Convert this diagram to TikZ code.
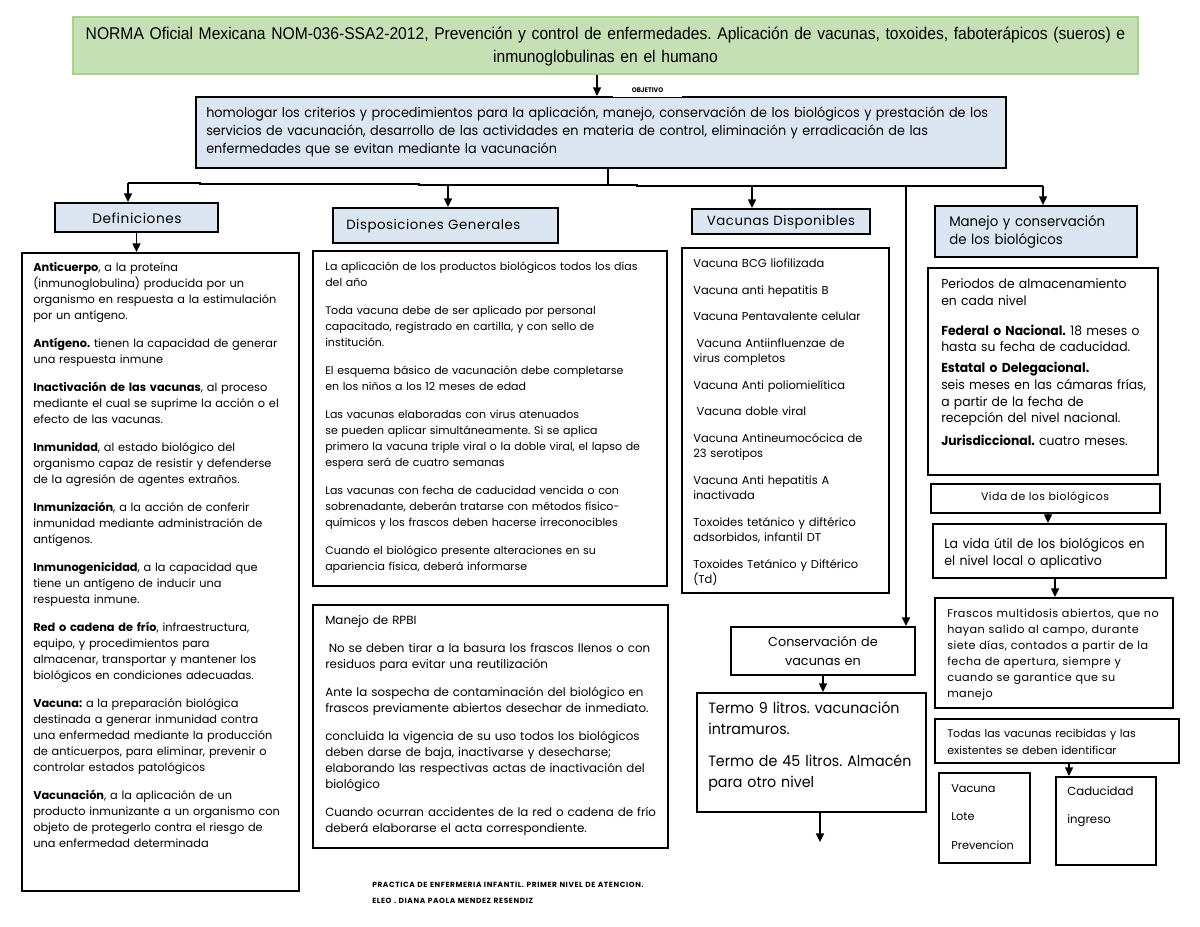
\documentclass[tikz,border=0pt]{standalone}
\usepackage{fontspec}
\setmainfont{Poppins}
\newfontfamily\nar{Poppins}[FakeStretch=0.95]
\newfontfamily\wsp{Poppins}[LetterSpace=4]
\newfontfamily\wspb{Poppins}[LetterSpace=8]
\newfontfamily\ttl{Liberation Sans}[FakeStretch=0.92]
\usetikzlibrary{arrows.meta,fit,calc}
\definecolor{tgreen}{HTML}{C5E0B4}
\definecolor{tgreenb}{HTML}{A9D08E}
\definecolor{lblue}{HTML}{DCE6F2}
\newcommand\myfs[2]{\fontsize{#1}{#2}\selectfont}
\frenchspacing
\begin{document}
\begin{tikzpicture}[x=0.75pt,y=-0.75pt,
  box/.style={draw=black,line width=1.6pt,inner sep=0pt},
  tbox/.style={draw=black,line width=0.8pt,inner sep=0pt},
  hbox/.style={box,fill=lblue},
  txt/.style={anchor=base west,inner sep=0pt,align=left,text width=#1*0.75pt},
  arr/.style={line width=1.2pt,-{Triangle[width=6pt,length=6.5pt]}},
  conn/.style={line width=1.1pt},
]
\useasboundingbox[fill=white] (0,0) rectangle (1200,927);

% title
\node[draw=tgreenb,fill=tgreen,line width=1.5pt,inner sep=0pt,fit={(73,17) (1138,74)}] (title) {};
\node[anchor=base,inner sep=0pt,align=center,text width=1064*0.75pt,font=\ttl\myfs{12.75}{17.25}] (title-t) at (605.5,40)
 {NORMA Oficial Mexicana NOM-036-SSA2-2012, Prevención y control de enfermedades. Aplicación de vacunas, toxoides, faboterápicos (sueros) e\\ inmunoglobulinas en el humano};

% objetivo
\node[hbox,fit={(196,97) (1006,168)}] (obj) {};
\node[fill=white,inner sep=0pt,minimum width=51.75pt,minimum height=11.25pt,anchor=south,font=\nar\bfseries\myfs{5}{6}] (objlbl) at ($(obj.north)+(46.5,1.5)$) {OBJETIVO};
\node[txt=800,font=\nar\myfs{10.1}{13.5}] (obj-t) at (206,118)
 {homologar los criterios y procedimientos para la aplicación, manejo, conservación de los biológicos y prestación de los\\
 servicios de vacunación, desarrollo de las actividades en materia de control, eliminación y erradicación de las\\
 enfermedades que se evitan mediante la vacunación};
\draw[arr] ($(title.south)+(-8.5,0)$) -- ($(obj.north)+(-4,0)$);

% headers
\node[hbox,fit={(55,203) (218,232)}] (defh) {};
\node[font=\wsp\myfs{10.3}{12}] (defh-t) at (137,218) {Definiciones};
\node[hbox,fit={(333,208) (558,243)}] (disph) {};
\node[txt=220,font=\wsp\myfs{10}{12}] (disph-t) at (346,229.6) {Disposiciones Generales};
\node[hbox,fit={(692,209) (870,234)}] (vach) {};
\node[font=\wsp\myfs{10}{12}] (vach-t) at (781,222) {Vacunas Disponibles};
\node[hbox,fit={(935,206) (1137,257)}] (manh) {};
\node[txt=195,font=\nar\myfs{10.5}{13.5}] (manh-t) at (949,227) {Manejo y conservación\\ de los biológicos};

% bus
\draw[conn] ($(obj.south)+(7,0)$) -- ++(0,17);
\coordinate (hA) at (128,183);
\coordinate (hD) at (448,184);
\coordinate (hC) at (752,186);
\coordinate (hV) at (906,186);
\coordinate (hB) at (1043,186);
\draw[conn] (hA) -- (200,183) -- (200,184) -- (419,184) -- (419,185) -- (637,185) -- (637,186) -- (hB);
\draw[arr] (hA) -- (hA |- defh.north);
\draw[arr] (hD) -- (hD |- disph.north);
\draw[arr] (hC) -- (hC |- vach.north);
\draw[arr] (hB) -- (hB |- manh.north);

% Definiciones
\node[box,fit={(22,253) (299,891)}] (defs) {};
\draw[arr] (defh.south) -- (defh.south |- defs.north);
\node[txt=300,font=\myfs{8.5}{12}] (defs-t) at (33,272)
 {\textbf{Anticuerpo}, a la proteína\\
(inmunoglobulina) producida por un\\
organismo en respuesta a la estimulación\\
por un antígeno.\\[9pt]
\textbf{Antígeno.} tienen la capacidad de generar\\
una respuesta inmune\\[9pt]
\textbf{Inactivación de las vacunas}, al proceso\\
mediante el cual se suprime la acción o el\\
efecto de las vacunas.\\[9pt]
\textbf{Inmunidad}, al estado biológico del\\
organismo capaz de resistir y defenderse\\
de la agresión de agentes extraños.\\[9pt]
\textbf{Inmunización}, a la acción de conferir\\
inmunidad mediante administración de\\
antígenos.\\[9pt]
\textbf{Inmunogenicidad}, a la capacidad que\\
tiene un antígeno de inducir una\\
respuesta inmune.\\[9pt]
\textbf{Red o cadena de frío}, infraestructura,\\
equipo, y procedimientos para\\
almacenar, transportar y mantener los\\
biológicos en condiciones adecuadas.\\[9pt]
\textbf{Vacuna:} a la preparación biológica\\
destinada a generar inmunidad contra\\
una enfermedad mediante la producción\\
de anticuerpos, para eliminar, prevenir o\\
controlar estados patológicos\\[9pt]
\textbf{Vacunación}, a la aplicación de un\\
producto inmunizante a un organismo con\\
objeto de protegerlo contra el riesgo de\\
una enfermedad determinada};

% Disposiciones
\node[box,fit={(313,251) (667,586)}] (disp) {};
\node[txt=400,font=\myfs{8.25}{12}] (disp-t) at (325,271)
 {La aplicación de los productos biológicos todos los días\\
del año\\[9pt]
Toda vacuna debe de ser aplicado por personal\\
capacitado, registrado en cartilla, y con sello de\\
institución.\\[9pt]
El esquema básico de vacunación debe completarse\\
en los niños a los 12 meses de edad\\[9pt]
Las vacunas elaboradas con virus atenuados\\
se pueden aplicar simultáneamente. Si se aplica\\
primero la vacuna triple viral o la doble viral, el lapso de\\
espera será de cuatro semanas\\[9pt]
Las vacunas con fecha de caducidad vencida o con\\
sobrenadante, deberán tratarse con métodos físico-\\
químicos y los frascos deben hacerse irreconocibles\\[9pt]
Cuando el biológico presente alteraciones en su\\
apariencia física, deberá informarse};

% RPBI
\node[box,fit={(313,605) (668,848)}] (rpbi) {};
\node[txt=400,font=\myfs{8.9}{12}] (rpbi-t) at (325,624)
 {Manejo de RPBI\\[9pt]
\hspace*{0.3em}No se deben tirar a la basura los frascos llenos o con\\
residuos para evitar una reutilización\\[9pt]
Ante la sospecha de contaminación del biológico en\\
frascos previamente abiertos desechar de inmediato.\\[9pt]
concluida la vigencia de su uso todos los biológicos\\
deben darse de baja, inactivarse y desecharse;\\
elaborando las respectivas actas de inactivación del\\
biológico\\[9pt]
Cuando ocurran accidentes de la red o cadena de frío\\
deberá elaborarse el acta correspondiente.};

\node[txt=400,font=\wspb\bfseries\myfs{5.6}{7}] (foot1) at (372,887) {PRACTICA DE ENFERMERIA INFANTIL. PRIMER NIVEL DE ATENCION.};
\node[txt=400,font=\wspb\bfseries\myfs{5.6}{7}] (foot2) at (372,903) {ELEO . DIANA PAOLA MENDEZ RESENDIZ};

% Vacunas
\node[box,fit={(682,248) (889,593)}] (vacs) {};
\node[txt=260,font=\myfs{8.6}{11.6}] (vacs-t) at (693,268)
 {Vacuna BCG liofilizada\\[8.25pt]
Vacuna anti hepatitis B\\[8.25pt]
Vacuna Pentavalente celular\\[8.25pt]
\hspace*{0.3em}Vacuna Antiinfluenzae de\\
virus completos\\[8.25pt]
Vacuna Anti poliomielítica\\[8.25pt]
\hspace*{0.3em}Vacuna doble viral\\[8.25pt]
Vacuna Antineumocócica de\\
23 serotipos\\[8.25pt]
Vacuna Anti hepatitis A\\
inactivada\\[8.25pt]
Toxoides tetánico y diftérico\\
adsorbidos, infantil DT\\[8.25pt]
Toxoides Tetánico y Diftérico\\
(Td)};

% Conservacion
\node[box,fit={(731,627) (915,675)}] (cons) {};
\node[anchor=base,inner sep=0pt,align=center,text width=180*0.75pt,font=\myfs{9.6}{14.25}] (cons-t) at (823,646.6) {Conservación de\\ vacunas en};
\draw[arr,line width=1.5pt] (hV) -- (hV |- cons.north);
\node[box,fit={(697,693) (926,812)}] (termo) {};
\draw[arr] (cons.south) -- (cons.south |- termo.north);
\node[txt=260,font=\nar\myfs{11.25}{16.1}] (termo-t) at (708,713.5)
 {Termo 9 litros. vacunación\\ intramuros.\\[7.5pt] Termo de 45 litros. Almacén\\ para otro nivel};
\coordinate (tend) at (820,842);
\draw[arr] (tend |- termo.south) -- (tend);

% Right column
\node[box,line width=1.3pt,fit={(928,268) (1158,475)}] (per) {};
\node[txt=260,font=\nar\myfs{9.75}{12.4}] (per-t) at (941,289)
 {Periodos de almacenamiento\\
en cada nivel\\[10pt]
\textbf{Federal o Nacional.} 18 meses o\\
hasta su fecha de caducidad.\\[3.4pt]
\textbf{Estatal o Delegacional.}\\
seis meses en las cámaras frías,\\
a partir de la fecha de\\
recepción del nivel nacional.\\[5pt]
\textbf{Jurisdiccional.} cuatro meses.};

\node[box,line width=1.3pt,fit={(931,484) (1160,513)}] (vida) {};
\node[font=\wsp\myfs{8.25}{10}] (vida-t) at (1045,498) {Vida de los biológicos};
\node[box,fit={(933,524) (1166,578)}] (util) {};
\draw[arr] ($(vida.south)+(2.5,0)$) -- ($(util.north)+(-1.5,0)$);
\node[txt=260,font=\nar\myfs{9.9}{12.75}] (util-t) at (944,548) {La vida útil de los biológicos en\\ el nivel local o aplicativo};
\node[box,fit={(935,598) (1173,708)}] (fras) {};
\draw[arr] ($(util.south)+(5.5,0)$) -- ($(fras.north)+(1,0)$);
\node[txt=260,font=\wsp\myfs{8.4}{12}] (fras-t) at (947,617)
 {Frascos multidosis abiertos, que no\\ hayan salido al campo, durante\\ siete días, contados a partir de la\\ fecha de apertura, siempre y\\ cuando se garantice que su\\ manejo};
\node[tbox,fit={(935,719) (1179,763)}] (todas) {};
\node[txt=260,font=\myfs{8.25}{12.75}] (todas-t) at (947,737)
 {Todas las vacunas recibidas y las\\ existentes se deben identificar};
\node[tbox,fit={(939,773) (1030,863)}] (vac2) {};
\node[txt=100,font=\myfs{8.5}{21.4}] (vac2-t) at (951,792) {Vacuna\\ Lote\\ Prevencion};
\node[box,fit={(1056,777) (1156,865)}] (cad) {};
\node[txt=100,font=\myfs{8.8}{21}] (cad-t) at (1067,795) {Caducidad\\ ingreso};
\coordinate (tda) at ($(todas.south)+(12,0)$);
\draw[arr] (tda) -- (tda |- cad.north);
\end{tikzpicture}
\end{document}
